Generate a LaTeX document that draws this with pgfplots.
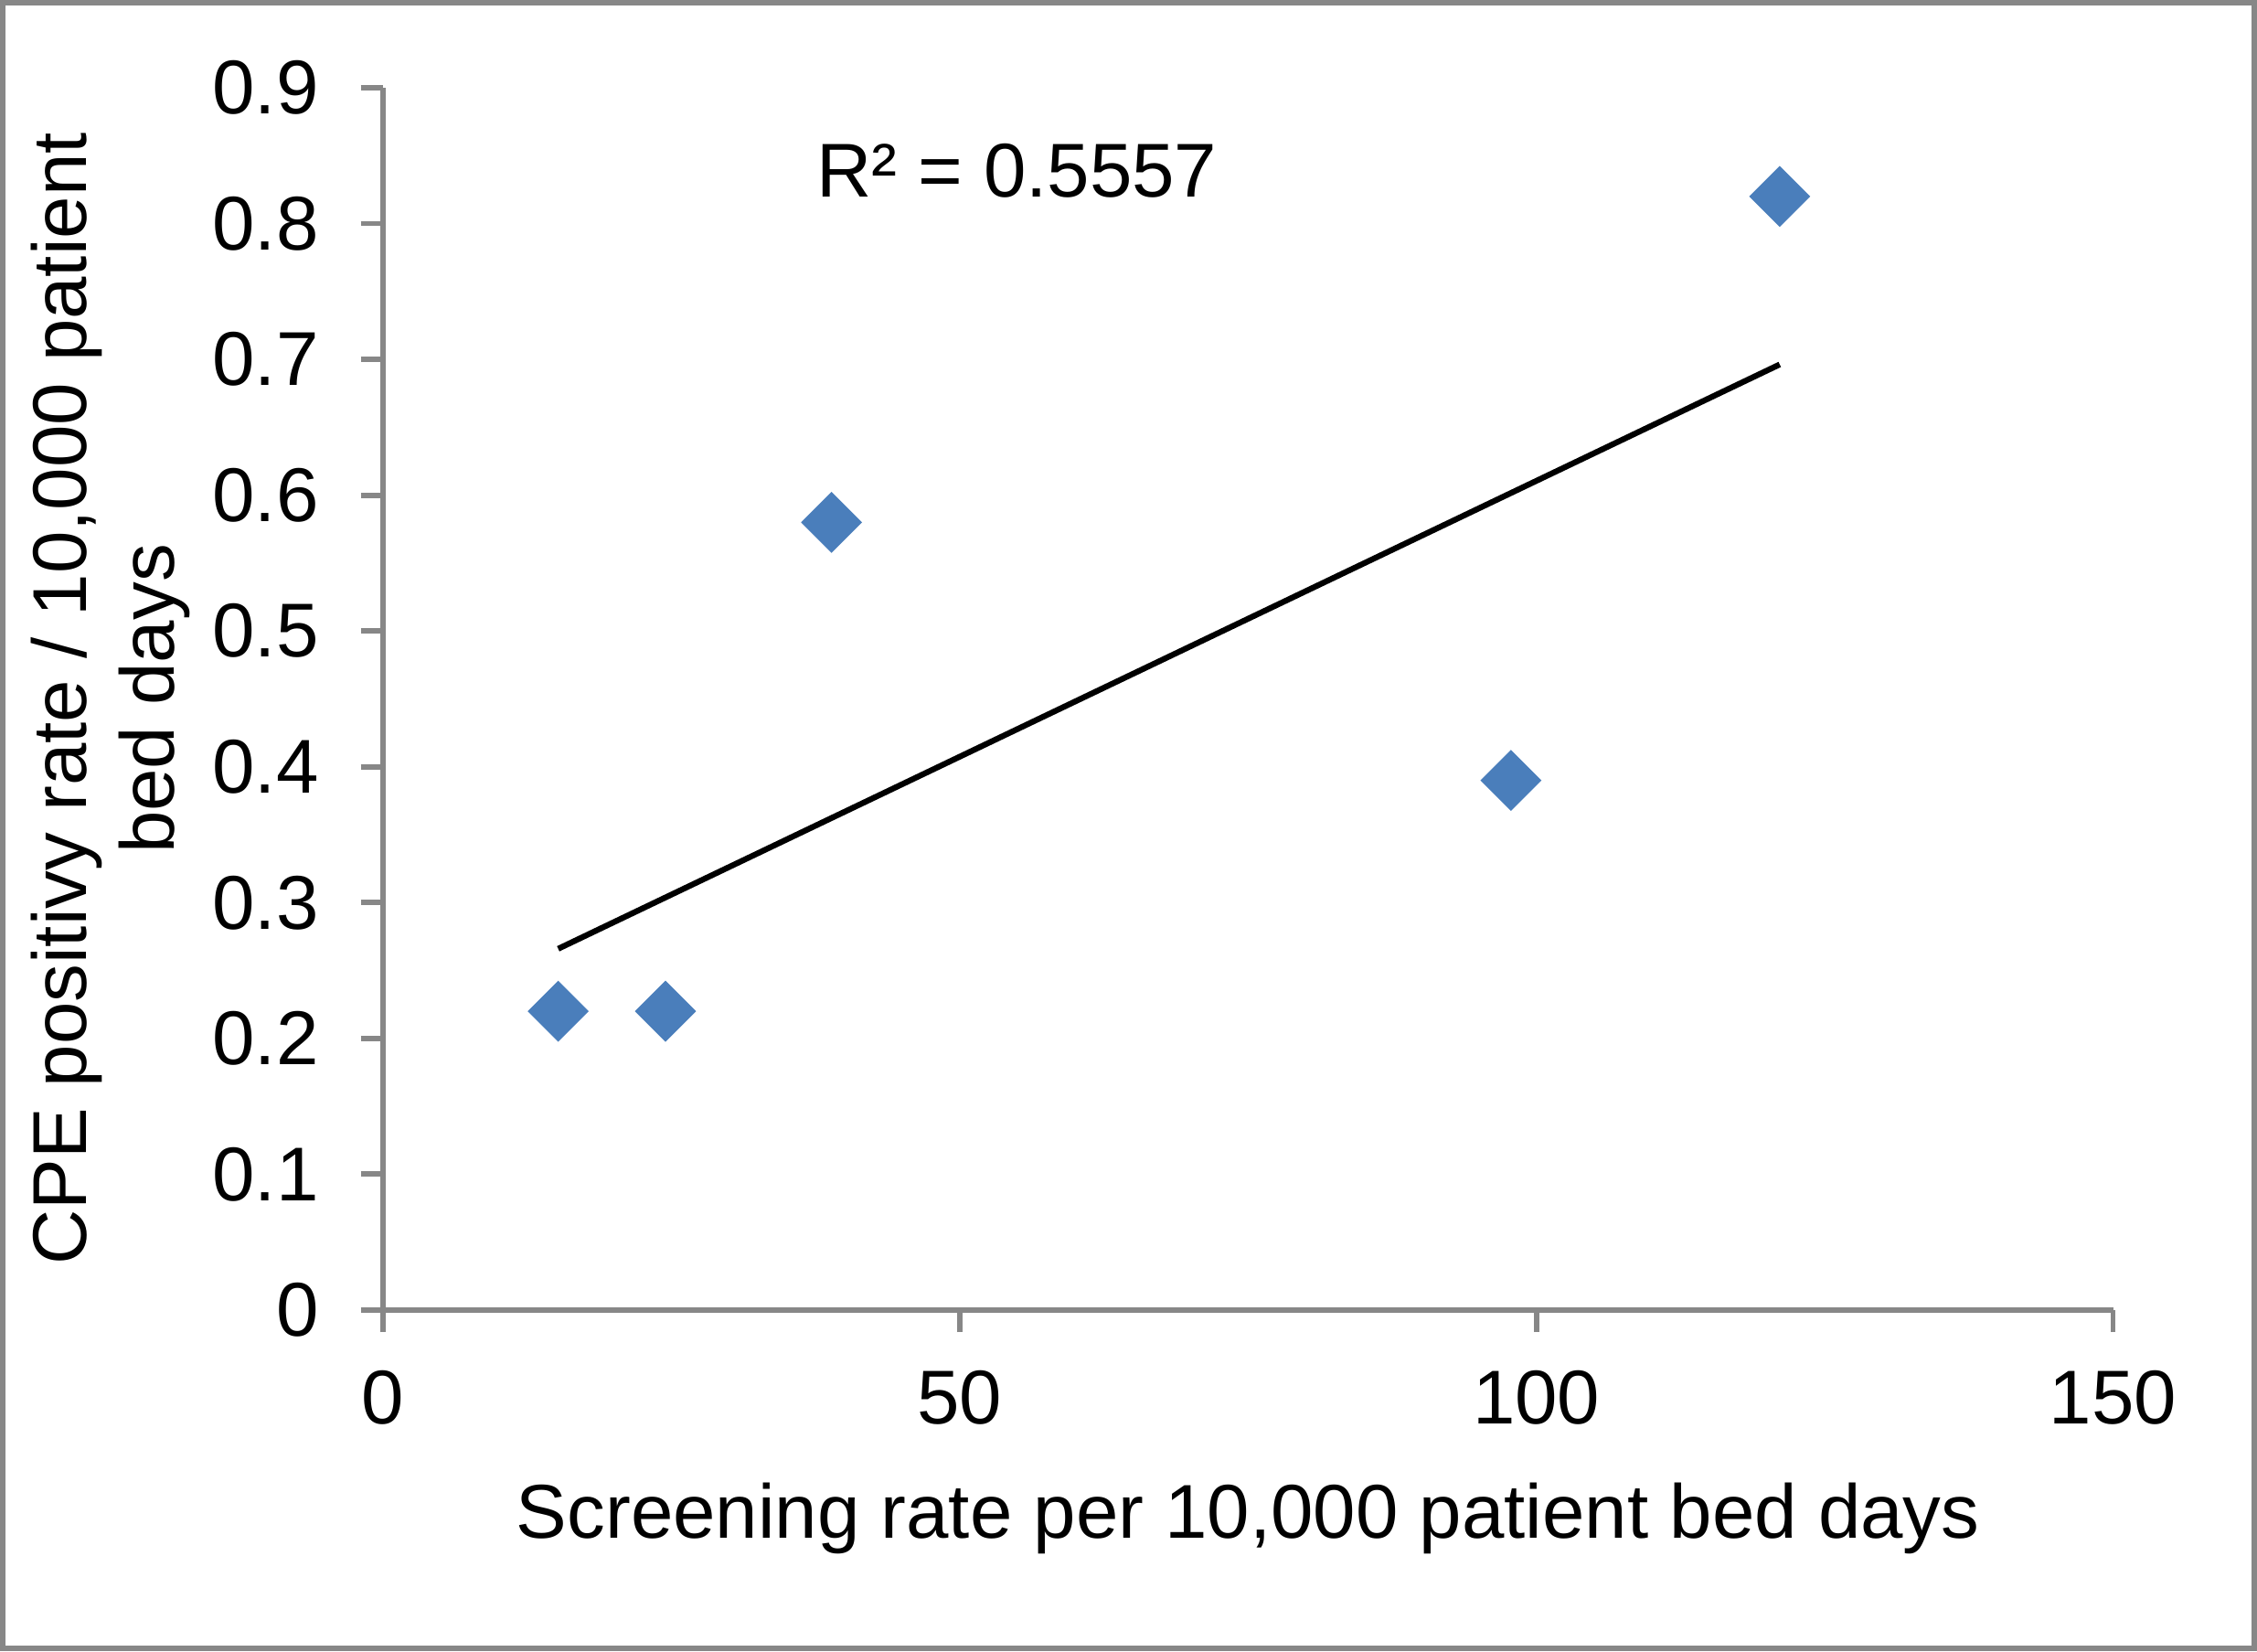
\documentclass[border=0pt]{standalone}
\usepackage{fontspec}
\setmainfont{Liberation Sans}
\usepackage{pgfplots}
\usepackage{pgfplotstable}
\pgfplotsset{compat=1.18}
\definecolor{axgray}{HTML}{878787}
\definecolor{ptblue}{HTML}{4A7EBB}

% screening rate vs CPE positivity (per 10,000 patient bed days)
\pgfplotstableread{
x y
15.2 0.22
24.5 0.22
38.9 0.58
97.8 0.39
121.1 0.82
}\screening

\begin{document}
\fontsize{15.9}{18.3}\selectfont
\begin{tikzpicture}
\path[use as bounding box, fill=white] (-79.8pt,-71.1pt) rectangle (390.6pt,273pt);
\begin{axis}[
    scale only axis,
    width=360.6pt, height=254.7pt,
    xmin=0, xmax=150, ymin=0, ymax=0.9,
    xtick={0,50,100,150},
    ytick={0,0.1,0.2,0.3,0.4,0.5,0.6,0.7,0.8,0.9},
    axis lines*=left,
    axis line style={axgray, line width=1.1pt},
    tick style={axgray, line width=1.1pt},
    tick align=outside,
    major tick length=4.6pt,
    /pgf/number format/assume math mode=true,
    yticklabel style={/pgf/number format/fixed, /pgf/number format/precision=1,
        anchor=east, inner sep=0pt, xshift=-8.6pt},
    xticklabel style={anchor=base, inner sep=0pt, yshift=-19.2pt},
    xlabel={Screening rate per 10,000 patient bed days},
    xlabel style={at={(axis description cs:0.5,0)}, anchor=base, inner sep=0pt, yshift=-47.6pt},
    ylabel={CPE positivy rate / 10,000 patient\\bed days},
    ylabel style={align=center, at={(axis description cs:0,0.5)}, anchor=center, inner sep=0pt, yshift=56.8pt},
    clip=false,
]
\addplot[black, line width=1.2pt, no marks]
    table[x=x, y={create col/linear regression={y=y}}] {\screening};
\addplot[only marks, mark=square*, mark size=4.3pt,
    mark options={rotate=45, fill=ptblue, draw=ptblue}]
    table[x=x, y=y] {\screening};
\node[anchor=base west, inner sep=0pt] at (axis cs:37.5,0.8195) {R² = 0.5557};
\end{axis}
\draw[axgray, line width=1.14pt] (-79.23pt,-70.53pt) rectangle (390.03pt,272.43pt);
\end{tikzpicture}
\end{document}
